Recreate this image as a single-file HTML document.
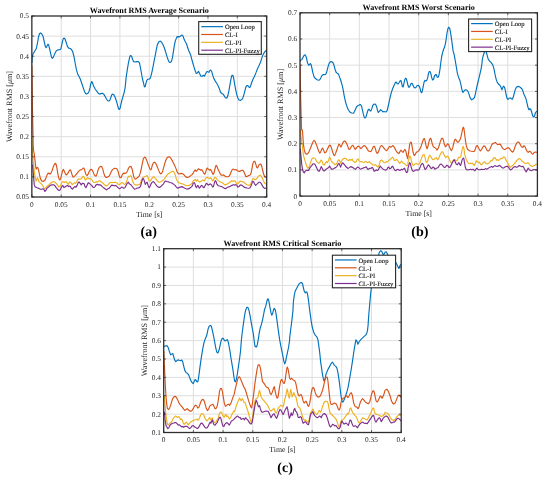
<!DOCTYPE html>
<html><head><meta charset="utf-8"><title>Wavefront RMS</title>
<style>
html,body{margin:0;padding:0;background:#fff;}
svg{display:block;}
text{text-rendering:geometricPrecision;font-family:"Liberation Serif","DejaVu Serif",serif;fill:#262626;}
.tk{font-size:7.35px;}
.tt{font-size:8.15px;font-weight:bold;fill:#000;}
.lg{font-size:6.6px;fill:#111;stroke:#111;stroke-width:0.12px;}
.cap{font-size:14px;font-weight:bold;fill:#000;}
.grid line{stroke:#dedede;stroke-width:1.0;}
.c{fill:none;stroke-width:1.15;stroke-linejoin:round;stroke-linecap:round;}
</style></head><body>
<svg width="550" height="481" viewBox="0 0 550 481">
<rect x="0" y="0" width="550" height="481" fill="#fff"/>

<g id="plot-a">
<g class="grid">
<line x1="61.21" y1="16.0" x2="61.21" y2="197.0"/>
<line x1="90.56" y1="16.0" x2="90.56" y2="197.0"/>
<line x1="119.92" y1="16.0" x2="119.92" y2="197.0"/>
<line x1="149.28" y1="16.0" x2="149.28" y2="197.0"/>
<line x1="178.63" y1="16.0" x2="178.63" y2="197.0"/>
<line x1="207.99" y1="16.0" x2="207.99" y2="197.0"/>
<line x1="237.34" y1="16.0" x2="237.34" y2="197.0"/>
<line x1="31.85" y1="176.89" x2="266.7" y2="176.89"/>
<line x1="31.85" y1="156.78" x2="266.7" y2="156.78"/>
<line x1="31.85" y1="136.67" x2="266.7" y2="136.67"/>
<line x1="31.85" y1="116.56" x2="266.7" y2="116.56"/>
<line x1="31.85" y1="96.44" x2="266.7" y2="96.44"/>
<line x1="31.85" y1="76.33" x2="266.7" y2="76.33"/>
<line x1="31.85" y1="56.22" x2="266.7" y2="56.22"/>
<line x1="31.85" y1="36.11" x2="266.7" y2="36.11"/>
</g>
<clipPath id="clip-a"><rect x="31.85" y="16.0" width="234.85" height="181.00"/></clipPath>
<g clip-path="url(#clip-a)">
<polyline class="c" stroke="#0072bd" points="32.0,62.6 32.2,57.7 32.7,54.5 34.4,51.7 36.3,48.5 37.4,43.5 38.5,37.0 39.6,33.5 40.6,32.9 41.8,34.0 43.1,36.5 44.2,41.4 45.3,46.3 46.1,47.7 46.9,46.3 47.8,44.4 48.5,44.6 49.4,47.9 50.5,52.8 51.5,57.2 52.4,58.3 53.5,56.9 54.9,53.4 56.2,51.0 57.8,49.9 59.5,49.8 60.8,49.2 61.6,45.7 62.5,41.4 63.3,38.6 64.2,38.1 65.1,39.2 66.2,42.5 67.4,46.3 68.7,48.1 70.2,48.5 71.5,49.5 72.8,52.0 74.0,56.6 75.0,62.1 75.5,65.0 76.5,69.9 77.8,74.3 79.3,77.0 80.4,79.2 81.8,83.5 83.1,87.4 84.4,91.2 85.5,93.4 86.6,93.9 88.0,93.2 89.1,91.2 90.0,87.9 90.7,84.1 91.6,81.6 92.4,82.5 93.5,85.7 94.9,88.5 96.7,91.2 98.4,93.4 99.7,94.1 101.1,93.6 102.4,93.2 103.6,93.9 104.9,96.1 106.3,98.8 107.6,100.7 109.0,101.0 110.0,99.9 110.9,97.2 111.8,94.7 112.8,94.1 114.0,95.0 115.3,97.7 116.4,101.0 117.5,104.8 118.3,108.1 119.1,109.5 120.0,108.6 120.7,105.4 121.8,100.5 123.1,96.1 124.2,92.3 125.1,87.9 126.1,77.9 127.2,70.3 128.3,63.7 129.4,58.3 130.0,56.0 130.9,55.6 131.8,56.7 132.6,59.5 133.6,61.6 135.3,62.0 136.9,61.6 138.3,61.6 139.3,62.7 139.4,62.6 140.3,67.0 141.4,73.0 142.4,78.5 143.6,83.4 144.4,87.0 145.2,86.6 145.9,83.4 146.8,80.3 147.9,79.2 149.2,79.2 150.3,78.1 151.2,75.2 152.3,70.3 153.4,64.8 154.4,59.4 155.1,56.2 156.3,49.6 157.4,44.7 158.7,42.0 160.0,41.1 161.4,42.0 162.8,44.2 164.2,47.5 165.6,51.8 166.9,56.2 168.2,60.0 169.3,62.2 170.4,62.5 171.5,61.1 172.4,57.8 173.2,52.9 174.2,46.4 175.3,40.9 176.5,37.9 176.8,36.9 178.2,36.6 179.6,36.9 180.9,35.8 182.2,35.0 183.1,36.1 184.0,39.1 185.3,41.8 186.6,44.0 187.7,47.8 189.1,51.6 190.5,54.4 191.8,59.3 192.4,61.5 193.8,66.4 195.2,70.7 196.3,73.5 197.4,72.9 198.5,71.3 199.6,73.5 200.9,76.2 202.2,76.2 203.3,75.3 204.4,76.2 205.5,74.0 206.6,71.8 207.7,71.6 208.8,72.4 209.8,70.5 210.7,70.0 211.8,71.8 212.7,75.1 213.8,78.4 215.3,81.1 216.7,83.3 218.2,86.0 219.4,88.7 220.4,92.0 221.8,93.6 222.8,93.8 223.9,95.3 225.0,97.1 226.1,98.2 227.0,97.8 227.9,95.3 229.0,90.4 230.1,83.8 231.2,77.8 232.0,75.3 232.8,75.3 233.6,77.8 234.6,83.8 235.7,89.8 236.8,94.7 237.9,98.0 239.0,100.0 240.3,100.4 241.7,99.6 242.8,98.0 243.9,94.7 245.0,90.4 246.1,86.5 247.2,85.5 248.3,86.0 249.4,87.6 250.2,87.1 251.3,83.8 252.6,80.0 254.3,76.7 255.9,72.9 257.6,68.5 259.2,65.3 260.6,62.0 261.9,57.6 263.2,54.4 264.6,52.0 266.3,50.5"/>
<polyline class="c" stroke="#d95319" points="31.9,66.0 32.5,110.0 33.2,145.0 33.5,150.0 34.3,154.4 35.1,160.9 35.6,166.4 36.2,169.1 37.0,167.4 37.8,167.7 38.6,170.2 39.5,174.6 40.5,178.9 41.9,181.1 43.3,181.4 44.6,180.6 45.7,178.6 46.8,175.6 47.9,173.4 49.0,173.1 50.0,174.2 51.1,172.9 52.2,170.2 53.3,166.9 54.4,164.2 55.5,163.3 56.4,165.3 57.1,169.1 58.0,174.6 58.9,178.6 59.9,180.0 60.7,178.6 61.6,174.6 62.6,170.7 63.5,169.4 64.2,170.9 65.1,173.4 66.2,174.9 67.3,174.2 68.4,172.4 69.2,170.7 70.2,169.8 71.1,171.3 72.0,174.6 73.0,177.1 74.0,176.7 75.5,175.3 76.9,173.4 78.4,171.6 79.8,170.2 81.5,169.6 82.9,168.6 83.0,168.0 84.1,168.3 85.0,171.3 86.0,174.6 87.2,175.6 88.2,174.0 89.3,171.3 90.4,169.6 91.5,169.4 92.6,170.7 93.7,173.4 94.8,175.6 95.9,176.2 97.0,174.0 98.0,170.2 99.2,167.4 100.5,166.4 101.8,166.6 102.8,169.1 103.7,172.9 104.8,176.2 106.1,177.5 107.5,177.1 109.0,176.2 110.0,174.6 111.2,171.8 112.5,169.6 113.9,168.6 115.5,168.3 117.0,169.1 118.1,171.3 119.0,175.1 120.1,177.8 121.2,177.5 122.3,174.6 123.6,173.1 125.0,173.4 126.4,172.7 127.5,170.7 128.6,168.0 129.9,166.4 131.0,166.6 132.1,169.1 133.0,173.4 133.9,177.3 135.2,179.2 136.4,178.6 137.9,177.3 138.0,177.1 139.1,176.2 140.2,173.4 141.3,168.6 142.4,163.1 143.4,158.7 144.6,157.1 145.6,157.8 146.7,160.4 147.8,163.6 148.9,166.4 150.0,169.1 150.9,169.8 151.6,168.0 152.5,164.7 153.6,162.6 154.7,162.2 155.8,163.6 157.1,166.4 158.4,169.6 159.5,172.4 160.6,173.8 161.7,173.4 162.8,170.7 163.8,166.9 164.9,163.1 166.0,159.8 167.1,157.8 168.6,156.8 169.8,157.1 171.1,158.7 172.4,160.9 173.7,163.6 175.1,166.4 176.2,169.1 177.1,171.8 178.2,173.4 179.4,174.0 181.1,173.4 182.5,173.8 183.8,174.6 185.1,176.2 186.6,177.3 188.0,177.3 189.3,176.7 190.7,175.6 192.0,174.6 193.0,173.4 194.1,171.3 195.2,169.8 196.3,171.3 197.4,170.2 198.4,168.8 199.6,169.4 200.6,170.2 201.7,169.6 202.8,171.3 203.9,173.4 204.8,174.2 205.6,172.4 206.4,169.6 207.2,168.0 208.3,169.1 209.4,170.2 210.4,169.4 211.6,171.3 212.6,174.0 213.5,174.2 214.3,171.8 215.2,168.0 216.1,165.3 217.0,166.4 217.9,169.1 219.0,171.3 220.1,173.4 221.2,175.1 222.4,175.3 223.6,174.9 224.8,176.0 226.3,176.7 227.7,176.7 229.0,176.2 230.1,174.6 231.2,171.8 232.3,169.6 233.4,169.1 234.4,169.8 235.8,169.6 237.2,170.5 238.6,171.3 239.9,171.3 241.2,170.5 242.6,170.2 243.7,171.3 244.8,174.0 245.9,176.7 247.2,176.4 248.6,175.6 249.9,175.3 251.0,173.4 251.9,169.1 252.7,164.2 253.8,161.4 254.9,161.4 255.8,164.2 256.7,167.4 257.5,168.0 258.4,166.2 259.4,164.2 260.8,164.0 261.6,165.8 262.5,169.6 263.6,174.0 264.7,176.7 266.6,177.3"/>
<polyline class="c" stroke="#edb120" points="31.9,137.0 32.4,150.0 33.2,160.9 34.0,168.6 34.8,175.1 35.6,179.4 36.2,181.1 37.0,178.6 37.6,177.8 38.1,179.2 38.9,181.6 40.0,182.7 41.3,183.8 42.7,185.4 43.8,187.6 44.9,188.7 46.0,187.6 47.4,186.0 48.7,184.9 49.8,183.8 51.1,182.7 52.5,181.8 54.0,181.6 55.3,182.5 56.6,183.8 57.7,185.4 58.8,186.9 59.9,186.6 61.0,184.4 62.0,182.2 63.1,181.6 64.2,182.5 65.3,181.8 66.2,181.6 67.0,182.7 68.2,184.4 69.2,182.7 70.2,181.8 71.1,182.7 72.2,184.7 73.3,183.8 74.4,182.7 75.5,183.3 76.5,182.2 77.6,180.0 78.7,178.9 80.2,179.2 81.5,178.6 82.5,177.1 83.0,176.2 84.1,177.1 85.2,180.0 86.3,179.4 87.4,177.8 88.5,178.4 89.8,178.9 90.8,178.6 92.0,180.0 93.0,181.6 94.1,182.7 95.2,182.5 96.3,181.6 97.4,182.2 98.8,181.1 99.9,180.6 101.0,181.8 102.4,182.7 103.7,183.8 105.0,185.4 106.5,186.0 107.9,184.9 109.2,183.3 110.5,182.5 111.9,182.2 113.5,182.5 115.2,182.2 116.6,182.7 117.9,184.0 119.2,184.7 120.3,184.0 121.4,182.7 122.5,182.5 123.6,183.8 124.7,184.4 125.8,183.3 126.8,181.1 127.7,177.8 128.6,176.2 129.7,176.4 130.8,175.6 131.6,177.3 132.6,181.1 133.7,183.6 135.2,184.9 136.4,185.1 137.6,184.8 138.0,184.9 139.3,184.7 140.4,183.3 141.5,180.0 142.4,178.2 143.4,177.3 144.6,176.7 145.8,176.2 146.9,175.6 147.8,176.7 148.6,179.4 149.4,181.1 150.6,180.6 151.6,178.9 152.7,177.3 153.8,176.7 154.9,177.8 156.3,179.4 157.6,181.1 158.9,182.2 160.4,182.0 161.8,181.1 163.1,180.3 164.4,178.9 165.5,177.3 166.6,175.6 168.0,174.0 169.4,172.9 170.7,172.2 172.0,171.3 173.1,171.3 174.2,172.4 175.3,175.1 176.2,178.4 177.3,181.1 178.6,182.5 180.0,183.3 181.4,183.6 182.9,184.0 184.4,184.7 185.8,185.4 187.1,185.8 188.7,185.4 190.2,184.9 191.4,183.8 192.6,182.4 193.0,181.1 194.1,180.6 195.2,179.4 196.3,181.1 197.4,179.7 198.4,181.1 199.6,182.2 200.6,181.6 201.7,180.6 203.0,180.0 204.1,181.1 205.0,179.4 206.1,177.8 207.4,177.3 208.5,178.2 209.6,178.6 210.7,177.8 211.8,179.4 212.6,181.1 213.7,179.4 214.8,177.3 215.9,177.8 217.0,179.4 218.3,180.6 219.7,181.6 221.2,182.2 222.4,182.7 223.8,184.0 225.2,184.9 226.6,184.4 227.9,183.6 229.2,182.7 230.6,181.8 231.7,180.8 232.8,181.4 233.9,180.6 235.0,181.1 236.1,182.7 237.2,184.4 238.3,183.3 239.4,181.6 240.4,181.1 241.6,181.8 243.0,181.6 244.3,182.7 245.6,183.8 247.0,184.7 248.4,185.1 249.7,185.4 250.8,183.8 251.6,181.6 252.7,178.9 253.8,178.6 254.9,179.7 256.0,179.2 257.1,178.2 258.1,176.7 259.2,175.6 260.3,175.3 261.4,176.2 262.5,178.6 263.8,181.6 265.1,183.6 266.6,184.4"/>
<polyline class="c" stroke="#7e2f8e" points="31.9,165.0 32.6,165.3 33.2,171.8 33.7,178.4 34.3,184.9 35.1,186.9 36.2,187.3 37.6,188.0 38.9,188.4 40.2,189.1 41.6,189.3 43.0,188.7 44.1,189.8 44.9,191.4 45.8,190.4 46.8,188.4 48.2,187.3 49.5,186.0 50.9,185.1 52.2,184.9 53.6,184.7 54.7,185.4 55.8,187.1 56.9,188.4 58.0,189.8 59.1,190.6 60.2,189.8 61.3,187.6 62.4,185.4 63.1,186.0 64.0,187.6 65.1,187.1 66.2,186.0 67.5,185.4 68.6,186.6 69.5,186.0 70.5,186.6 71.4,188.4 72.5,189.1 73.6,187.6 74.7,186.6 76.0,187.1 77.1,185.4 78.2,182.7 79.0,182.0 80.2,183.3 81.2,184.9 82.3,183.3 83.0,183.3 84.1,183.8 85.0,186.6 86.0,187.6 87.2,184.9 88.2,182.7 89.3,183.3 90.4,184.4 91.7,185.4 92.8,187.1 93.9,187.6 95.0,186.6 96.1,184.9 97.4,184.4 98.8,184.9 100.2,184.7 101.5,185.8 102.8,187.1 104.3,188.2 105.6,189.3 106.7,189.8 107.9,188.7 109.2,188.2 110.5,186.6 111.6,185.1 113.0,185.4 114.4,185.8 115.7,185.4 117.0,186.6 118.1,187.6 119.5,188.7 120.6,188.2 121.7,187.1 122.8,187.6 123.9,188.4 125.0,187.6 126.1,185.4 127.2,183.3 128.3,182.2 129.4,183.8 130.8,184.7 131.9,186.0 133.2,187.6 134.5,189.1 135.9,188.7 137.3,188.0 138.0,188.0 139.3,187.6 140.4,186.6 141.3,183.3 142.2,180.0 143.0,178.4 143.8,179.4 144.6,182.2 145.3,184.4 146.2,182.7 147.1,182.2 147.8,184.4 148.7,187.1 149.4,187.6 150.2,186.0 151.1,183.8 152.2,182.2 153.3,181.6 154.4,182.5 155.4,184.0 156.8,185.8 158.2,187.1 159.5,187.4 160.9,186.6 162.2,185.1 163.6,183.8 164.7,181.6 165.8,181.1 166.9,181.6 168.3,181.8 169.6,182.5 170.9,182.7 172.4,183.3 173.8,184.4 175.1,185.4 176.4,187.1 177.5,188.2 178.9,187.6 180.3,187.1 181.6,186.6 182.9,187.1 184.4,188.0 186.0,188.7 187.6,189.1 189.3,188.4 190.6,187.6 191.7,186.6 192.8,184.9 193.0,183.3 194.1,182.7 195.0,183.8 195.7,186.6 196.6,187.6 197.6,185.4 198.4,186.0 199.3,188.2 200.3,187.1 201.4,185.4 202.5,186.0 203.4,187.6 204.2,187.6 205.2,185.4 206.3,183.3 207.2,183.8 208.3,185.1 209.4,184.4 210.4,183.8 211.6,184.9 212.4,186.9 213.4,186.6 214.3,183.3 215.2,180.6 215.9,181.1 216.8,183.8 217.9,185.4 219.2,186.0 220.5,186.2 221.9,186.6 223.3,187.6 224.6,188.4 225.7,188.7 227.0,187.6 228.4,186.9 229.9,186.6 231.2,185.8 232.5,185.1 233.6,184.7 234.7,185.1 235.8,184.7 236.8,185.4 237.9,187.1 239.0,186.6 240.1,185.1 241.2,184.9 242.6,185.8 244.1,187.1 245.4,187.6 247.0,188.0 248.6,188.2 249.9,188.0 251.0,186.0 251.6,184.4 252.7,181.4 253.6,181.6 254.6,184.0 255.6,185.4 256.7,184.4 257.8,183.3 258.9,182.2 260.0,182.2 261.1,183.3 262.2,185.4 263.3,187.3 264.7,188.4 266.6,188.0"/>
</g>
<rect x="31.85" y="16.0" width="234.85" height="181.00" fill="none" stroke="#2e2e2e" stroke-width="1.3"/>
<path d="M31.85 197.0v-2.4M31.85 16.0v2.4M61.21 197.0v-2.4M61.21 16.0v2.4M90.56 197.0v-2.4M90.56 16.0v2.4M119.92 197.0v-2.4M119.92 16.0v2.4M149.28 197.0v-2.4M149.28 16.0v2.4M178.63 197.0v-2.4M178.63 16.0v2.4M207.99 197.0v-2.4M207.99 16.0v2.4M237.34 197.0v-2.4M237.34 16.0v2.4M266.70 197.0v-2.4M266.70 16.0v2.4M31.85 197.00h2.4M266.7 197.00h-2.4M31.85 176.89h2.4M266.7 176.89h-2.4M31.85 156.78h2.4M266.7 156.78h-2.4M31.85 136.67h2.4M266.7 136.67h-2.4M31.85 116.56h2.4M266.7 116.56h-2.4M31.85 96.44h2.4M266.7 96.44h-2.4M31.85 76.33h2.4M266.7 76.33h-2.4M31.85 56.22h2.4M266.7 56.22h-2.4M31.85 36.11h2.4M266.7 36.11h-2.4M31.85 16.00h2.4M266.7 16.00h-2.4" stroke="#262626" stroke-width="0.7" fill="none"/>
<text class="tk" x="31.85" y="206.90" text-anchor="middle">0</text>
<text class="tk" x="61.21" y="206.90" text-anchor="middle">0.05</text>
<text class="tk" x="90.56" y="206.90" text-anchor="middle">0.1</text>
<text class="tk" x="119.92" y="206.90" text-anchor="middle">0.15</text>
<text class="tk" x="149.28" y="206.90" text-anchor="middle">0.2</text>
<text class="tk" x="178.63" y="206.90" text-anchor="middle">0.25</text>
<text class="tk" x="207.99" y="206.90" text-anchor="middle">0.3</text>
<text class="tk" x="237.34" y="206.90" text-anchor="middle">0.35</text>
<text class="tk" x="266.70" y="206.90" text-anchor="middle">0.4</text>
<text class="tk" x="29.05" y="199.40" text-anchor="end">0.05</text>
<text class="tk" x="29.05" y="179.29" text-anchor="end">0.1</text>
<text class="tk" x="29.05" y="159.18" text-anchor="end">0.15</text>
<text class="tk" x="29.05" y="139.07" text-anchor="end">0.2</text>
<text class="tk" x="29.05" y="118.96" text-anchor="end">0.25</text>
<text class="tk" x="29.05" y="98.84" text-anchor="end">0.3</text>
<text class="tk" x="29.05" y="78.73" text-anchor="end">0.35</text>
<text class="tk" x="29.05" y="58.62" text-anchor="end">0.4</text>
<text class="tk" x="29.05" y="38.51" text-anchor="end">0.45</text>
<text class="tk" x="29.05" y="18.40" text-anchor="end">0.5</text>
<text class="tk" style="font-size:7.8px" x="149.28" y="216.90" text-anchor="middle">Time [s]</text>
<text class="tk" style="font-size:8.15px" transform="translate(11.85 106.50) rotate(-90)" text-anchor="middle">Wavefront RMS [<tspan font-style="italic">μ</tspan>m]</text>
<text class="tt" x="149.28" y="13.20" text-anchor="middle">Wavefront RMS Average Scenario</text>
<rect x="198.70" y="21.60" width="62.60000000000002" height="32.699999999999996" fill="#fff" stroke="#262626" stroke-width="1.1"/>
<line x1="201.20" y1="26.65" x2="222.90" y2="26.65" stroke="#0072bd" stroke-width="1.2"/>
<text class="lg" x="224.90" y="29.35">Open Loop</text>
<line x1="201.20" y1="34.50" x2="222.90" y2="34.50" stroke="#d95319" stroke-width="1.2"/>
<text class="lg" x="224.90" y="37.20">CL-I</text>
<line x1="201.20" y1="42.35" x2="222.90" y2="42.35" stroke="#edb120" stroke-width="1.2"/>
<text class="lg" x="224.90" y="45.05">CL-PI</text>
<line x1="201.20" y1="50.20" x2="222.90" y2="50.20" stroke="#7e2f8e" stroke-width="1.2"/>
<text class="lg" x="224.90" y="52.90">CL-PI-Fuzzy</text>
<text class="cap" x="148.7" y="235.85" text-anchor="middle">(a)</text>
</g>
<g id="plot-b">
<g class="grid">
<line x1="329.68" y1="12.8" x2="329.68" y2="196.1"/>
<line x1="359.35" y1="12.8" x2="359.35" y2="196.1"/>
<line x1="389.02" y1="12.8" x2="389.02" y2="196.1"/>
<line x1="418.70" y1="12.8" x2="418.70" y2="196.1"/>
<line x1="448.38" y1="12.8" x2="448.38" y2="196.1"/>
<line x1="478.05" y1="12.8" x2="478.05" y2="196.1"/>
<line x1="507.72" y1="12.8" x2="507.72" y2="196.1"/>
<line x1="300.0" y1="169.91" x2="537.4" y2="169.91"/>
<line x1="300.0" y1="143.73" x2="537.4" y2="143.73"/>
<line x1="300.0" y1="117.54" x2="537.4" y2="117.54"/>
<line x1="300.0" y1="91.36" x2="537.4" y2="91.36"/>
<line x1="300.0" y1="65.17" x2="537.4" y2="65.17"/>
<line x1="300.0" y1="38.99" x2="537.4" y2="38.99"/>
</g>
<clipPath id="clip-b"><rect x="300.0" y="12.8" width="237.40" height="183.30"/></clipPath>
<g clip-path="url(#clip-b)">
<polyline class="c" stroke="#0072bd" points="300.0,61.4 300.7,60.0 301.8,59.7 302.9,57.5 304.0,55.4 304.9,54.8 305.9,56.1 306.7,59.2 307.6,63.0 308.6,65.2 309.4,64.8 310.3,63.5 311.1,64.6 312.0,68.5 312.9,72.8 314.0,76.6 315.4,78.6 317.1,79.7 318.7,80.2 319.8,79.7 320.9,77.7 322.0,75.5 323.3,74.5 324.7,74.7 325.8,74.2 326.9,71.2 328.0,66.8 329.1,63.3 330.2,61.9 331.6,61.6 332.9,62.5 334.0,65.2 335.1,69.5 336.2,72.5 337.3,73.2 338.4,73.9 339.4,76.6 340.8,80.5 342.2,85.4 343.3,90.3 344.1,95.3 345.4,101.3 346.8,106.2 348.4,110.0 350.1,112.2 351.7,113.0 353.4,113.3 354.4,111.6 355.6,108.9 356.6,106.7 357.9,105.6 359.4,104.9 360.4,104.5 361.6,106.2 362.4,110.0 363.4,114.4 364.3,117.3 365.1,118.0 366.1,116.5 367.0,113.3 368.1,110.0 369.0,109.2 369.9,110.5 370.8,111.1 371.7,108.9 372.7,105.6 373.8,104.2 374.9,104.0 375.9,104.9 376.8,107.3 377.7,111.1 378.4,112.5 379.6,111.1 380.6,109.7 381.7,110.5 382.8,111.8 383.9,111.6 385.0,111.7 386.1,112.0 387.2,110.4 388.1,106.5 389.2,101.6 390.3,96.7 391.4,92.4 392.7,88.5 394.1,85.3 395.4,82.5 396.3,82.0 397.1,83.6 398.1,84.0 399.2,82.5 400.1,80.9 400.9,80.4 401.5,82.5 402.3,86.4 403.1,86.9 403.9,83.6 404.7,79.8 405.6,78.2 406.4,79.0 407.2,82.0 408.1,85.8 409.0,87.5 409.9,86.4 410.8,84.0 411.8,83.1 412.6,84.2 413.7,86.9 414.8,88.0 415.9,87.5 417.0,85.8 418.1,85.3 419.2,86.2 420.1,88.5 420.8,91.8 421.7,92.7 422.4,90.7 423.2,86.4 424.1,82.0 425.0,80.4 425.9,80.9 426.8,80.4 427.7,77.6 428.4,73.8 429.2,71.6 430.1,71.6 430.9,73.8 431.7,77.6 432.6,80.0 433.6,79.3 434.4,76.0 435.9,74.5 436.4,75.0 437.3,77.2 438.3,77.2 439.2,73.9 440.1,68.5 440.8,62.5 441.7,56.5 442.7,52.1 443.8,48.8 444.4,47.6 445.4,43.8 446.3,38.4 447.1,32.4 447.9,28.6 448.8,27.2 449.8,28.6 450.6,32.9 451.5,38.9 452.3,44.9 453.1,50.9 454.2,54.8 455.3,60.8 456.4,67.4 457.4,73.4 458.5,77.2 459.6,79.7 460.7,83.7 461.8,89.2 462.9,92.5 463.9,91.1 465.4,89.7 466.8,90.0 468.1,91.6 469.2,94.9 470.3,98.2 471.6,99.8 473.0,99.0 474.4,97.6 475.4,93.8 476.5,88.4 477.6,83.5 478.7,79.1 479.9,74.2 481.0,69.3 481.9,63.8 482.4,58.9 483.6,54.5 484.6,51.8 485.4,50.7 486.3,51.8 487.1,55.1 488.1,58.9 489.6,61.1 491.2,62.7 492.8,64.9 494.1,69.3 495.0,74.2 496.1,79.1 497.3,82.4 498.6,84.2 499.9,85.3 501.0,87.3 501.9,89.7 502.6,88.0 503.4,86.2 504.4,86.9 505.3,90.2 506.1,94.5 507.1,98.6 508.0,99.5 509.1,98.2 510.4,97.8 511.5,98.9 512.4,99.2 513.2,97.3 514.2,93.5 515.3,89.6 516.4,87.2 517.8,86.4 519.2,86.6 520.5,87.5 521.9,88.8 523.0,91.3 524.0,94.5 525.1,96.7 526.0,98.9 526.9,102.7 527.9,107.1 529.0,109.8 529.8,108.7 530.7,109.3 531.7,112.0 532.5,115.3 533.4,116.9 534.4,116.4 535.3,113.1 536.4,111.5 537.5,111.2"/>
<polyline class="c" stroke="#d95319" points="300.1,65.0 300.7,100.0 301.6,130.0 302.4,130.0 302.9,136.6 303.4,144.2 304.3,150.2 305.3,153.4 306.7,154.2 308.0,153.4 309.2,151.3 310.3,148.6 311.6,145.3 312.9,142.0 314.1,140.4 315.1,141.4 316.2,144.2 317.4,147.4 318.7,151.3 319.8,153.1 320.7,151.8 321.7,149.1 322.6,148.0 323.6,150.2 324.7,152.9 325.8,152.4 326.9,150.2 328.2,147.4 329.4,145.3 330.4,145.3 331.5,148.0 332.6,151.8 333.7,155.1 334.6,155.6 335.6,153.4 336.7,150.2 337.8,146.9 338.9,144.2 339.8,144.7 340.6,146.9 341.4,146.4 342.5,143.6 343.6,141.4 344.7,140.9 345.8,142.0 346.9,144.2 348.0,146.9 348.9,149.4 350.0,149.1 351.1,146.9 352.2,145.5 353.0,145.3 354.1,147.4 355.2,149.4 356.5,148.0 357.6,146.4 358.7,146.2 359.8,147.4 360.9,148.6 361.9,147.7 363.0,146.4 364.1,145.5 365.2,146.2 366.3,147.4 367.4,149.4 368.5,150.9 369.9,151.6 371.2,151.3 372.3,149.1 373.4,146.6 374.5,146.4 375.4,148.6 376.2,151.8 377.2,153.4 378.3,152.4 379.4,149.1 380.5,146.4 381.6,145.5 382.7,146.4 383.8,148.0 385.2,149.6 386.5,150.7 387.6,149.6 388.7,147.4 389.8,146.4 390.9,147.2 391.9,146.4 393.0,145.5 394.1,146.9 395.2,149.1 396.4,151.3 397.7,152.9 399.0,153.4 400.1,151.3 401.0,150.2 401.9,151.3 403.0,152.4 403.9,150.7 405.0,149.4 405.9,151.3 406.8,155.6 407.6,158.6 408.0,156.6 408.9,150.6 409.6,144.6 410.5,142.2 411.3,142.4 412.1,146.3 413.1,152.3 414.2,155.6 415.3,154.4 416.4,152.1 417.6,151.7 418.9,150.6 420.2,148.4 421.3,145.7 422.4,142.2 423.5,139.0 424.4,138.6 425.1,140.8 426.0,145.7 427.1,148.8 428.0,146.3 428.9,141.9 429.8,139.0 430.7,138.3 431.4,140.3 432.3,144.1 433.4,146.8 434.5,147.4 435.8,148.4 437.1,150.1 438.2,148.4 439.3,145.2 440.4,141.4 441.5,138.6 442.6,138.3 443.4,140.3 444.3,144.1 445.4,146.8 446.4,145.7 447.5,143.8 448.6,144.4 449.4,146.8 450.6,149.6 451.6,150.6 452.7,147.9 453.8,143.0 454.7,139.7 455.7,139.2 456.8,141.4 457.9,142.4 458.9,141.4 460.0,139.7 461.1,136.4 462.2,131.0 463.1,127.4 463.4,127.2 463.9,128.3 464.6,133.7 465.4,140.3 466.3,145.7 467.4,149.0 468.7,150.3 470.1,151.0 471.7,151.2 473.4,151.5 474.4,151.2 475.3,149.0 476.3,146.3 477.2,145.5 478.3,147.4 479.4,149.6 480.4,151.0 481.6,149.6 482.6,147.4 483.9,145.9 485.0,146.3 486.1,148.4 487.2,150.6 488.3,151.0 489.4,150.1 490.5,147.9 491.6,145.2 492.7,143.6 494.1,143.0 495.4,142.4 496.5,143.6 497.6,144.6 498.7,144.4 500.1,144.1 501.2,145.7 502.3,147.9 503.6,149.2 505.0,149.6 506.3,148.4 507.7,147.7 508.8,147.9 509.9,149.2 511.2,151.0 512.4,152.1 513.5,151.2 514.5,148.4 515.6,145.2 516.8,143.0 518.1,141.9 519.2,142.4 520.3,144.6 521.4,146.8 522.8,147.4 524.0,145.7 525.1,146.8 526.2,149.6 527.3,151.7 528.4,152.3 529.5,151.2 530.6,151.7 531.7,153.4 532.8,154.2 533.9,152.8 535.3,152.1 537.5,152.3"/>
<polyline class="c" stroke="#edb120" points="300.1,130.0 300.4,130.6 301.3,138.7 302.4,146.4 303.4,155.1 304.6,159.4 305.6,162.7 306.7,166.0 307.8,168.2 308.7,167.6 309.8,164.9 310.9,161.6 312.0,158.6 313.3,157.8 314.6,158.2 315.7,159.4 316.8,161.6 317.9,162.7 318.9,163.3 320.0,162.2 321.1,160.0 322.0,161.1 323.1,164.4 324.2,165.1 325.3,163.3 326.4,161.6 327.4,162.7 328.6,160.0 329.6,157.3 330.5,158.6 331.6,161.4 332.7,162.7 333.8,163.3 334.9,164.7 336.0,164.4 337.1,162.7 338.1,160.6 338.9,159.7 339.8,161.6 340.6,163.3 341.3,161.6 342.4,159.4 343.6,158.6 344.9,158.2 346.0,158.6 347.3,160.0 348.5,160.6 349.8,159.4 350.9,160.3 352.2,159.2 353.0,161.1 354.1,161.8 355.2,162.5 356.3,161.6 357.1,159.4 358.1,158.9 359.0,160.6 360.1,161.6 361.5,161.6 362.8,162.2 363.9,162.5 365.0,161.8 366.1,161.6 367.2,162.7 368.3,162.2 369.4,161.6 370.4,162.7 371.6,163.8 372.9,164.9 374.3,165.1 375.6,164.7 376.7,166.0 377.9,167.1 379.0,165.4 379.7,162.7 380.6,160.6 381.7,160.0 382.8,161.1 383.9,162.5 385.0,162.7 386.1,161.6 387.1,162.2 388.2,161.1 389.3,160.0 390.4,159.4 391.5,158.2 392.5,157.1 393.4,158.2 394.2,160.3 395.3,160.6 396.4,159.4 397.5,160.0 398.6,162.2 399.7,163.3 400.7,162.2 401.6,161.1 402.6,162.7 403.7,163.3 404.8,163.8 405.9,164.9 406.8,165.8 407.9,165.1 408.0,162.1 408.9,158.8 409.6,156.1 410.4,156.6 411.3,160.4 412.4,164.3 413.4,165.6 414.8,164.3 416.2,163.4 417.5,164.1 418.6,164.5 419.7,163.2 420.8,160.4 421.9,157.2 422.9,155.0 424.0,154.4 424.9,156.6 425.8,161.0 426.8,162.6 427.9,160.4 428.7,157.2 429.6,155.3 430.6,156.1 431.7,158.3 432.8,159.7 433.9,159.4 435.3,158.3 436.4,157.7 437.4,159.7 438.6,158.8 439.6,156.1 440.7,153.6 441.8,151.7 442.7,151.7 443.7,153.9 444.8,156.1 445.6,157.7 446.5,156.8 447.5,156.1 448.6,157.2 449.4,159.7 450.6,162.1 451.6,163.0 452.7,161.6 453.8,159.4 454.9,159.7 456.0,161.0 457.1,160.4 458.2,158.3 458.9,157.2 459.8,157.7 460.7,156.6 461.4,153.4 462.3,149.0 463.1,146.3 463.4,146.8 463.9,148.4 464.6,153.4 465.4,157.2 466.5,159.9 467.9,162.6 469.2,163.7 470.6,163.4 472.3,163.2 473.6,164.5 474.4,165.4 475.3,163.2 476.3,160.8 477.2,161.6 478.3,162.6 479.4,162.1 480.2,163.7 481.2,164.8 482.6,163.7 483.9,162.1 484.8,161.9 485.9,163.4 487.2,164.1 488.6,163.2 489.9,162.1 491.0,160.4 491.9,161.0 493.0,159.0 494.3,157.5 495.4,158.3 496.5,160.1 497.6,159.7 498.7,160.4 499.8,159.4 500.9,158.3 501.9,158.8 503.0,157.7 504.1,156.8 505.0,157.7 505.9,159.9 507.0,161.6 508.1,163.7 509.1,165.9 510.2,167.3 511.3,166.4 512.6,165.6 514.0,164.1 515.1,162.6 516.5,161.0 517.5,159.7 518.6,158.8 519.7,158.6 520.8,159.7 521.9,161.0 523.0,161.6 524.0,162.6 525.5,163.7 526.8,163.2 527.9,162.6 529.0,163.7 530.0,165.2 531.5,166.2 532.8,166.4 533.9,165.6 535.0,165.2 536.0,164.3 537.5,164.5"/>
<polyline class="c" stroke="#7e2f8e" points="300.1,149.0 300.4,150.2 301.1,157.3 301.8,164.9 302.6,169.8 303.4,172.0 304.3,172.8 305.1,171.4 306.2,170.4 307.5,170.2 308.6,170.4 309.7,168.2 310.8,166.6 311.9,165.4 312.7,164.0 314.0,163.8 315.1,164.4 316.0,166.6 317.1,168.7 318.2,170.9 319.3,171.2 320.4,168.7 321.2,166.6 322.2,168.2 323.3,170.6 324.4,170.9 325.8,169.5 327.2,168.4 328.6,167.6 329.6,166.0 330.5,167.6 331.6,169.3 332.9,169.1 334.2,168.2 335.6,167.6 336.9,166.6 338.0,164.4 338.9,163.3 339.7,164.9 340.6,167.1 341.4,164.9 342.4,162.9 343.3,163.3 344.4,164.7 345.4,166.0 346.8,167.6 348.2,168.4 349.3,167.6 350.6,166.6 351.8,167.1 353.0,167.6 354.3,168.7 355.4,169.3 356.5,168.2 357.6,167.1 358.7,167.6 359.8,168.7 360.9,169.1 361.9,168.4 363.0,168.2 364.1,167.6 365.2,167.3 366.1,166.9 367.0,168.2 367.9,169.5 369.0,168.7 370.1,168.4 371.2,168.2 372.3,167.3 373.2,168.7 374.1,171.2 375.1,170.9 376.2,169.8 377.3,170.4 378.4,169.8 379.4,167.6 380.3,166.0 381.1,167.1 382.2,168.4 383.3,169.3 384.4,169.8 385.7,170.2 387.0,169.3 387.9,167.6 388.8,167.1 389.8,168.7 390.9,168.2 391.9,166.6 392.8,166.2 393.7,168.2 394.8,170.2 396.1,170.6 397.2,169.3 398.3,169.5 399.4,170.4 400.4,170.2 401.6,169.3 402.6,169.8 403.7,168.7 404.6,168.2 405.4,170.4 406.4,172.6 407.6,172.0 408.0,168.1 408.9,164.8 409.6,162.6 410.4,163.7 411.3,167.6 412.4,170.8 413.7,171.4 415.1,170.3 416.4,169.7 417.8,170.3 418.9,169.7 420.0,167.6 421.1,164.8 422.2,163.4 423.3,164.3 424.1,167.0 425.1,169.5 426.2,168.6 427.3,166.4 428.4,164.8 429.5,165.9 430.6,168.1 431.7,168.6 432.8,167.0 433.9,167.6 434.9,169.2 436.0,168.6 437.1,168.1 438.2,167.6 439.3,165.4 440.4,164.1 441.5,164.3 442.6,165.4 443.7,167.0 444.8,167.6 445.9,166.4 446.9,165.2 448.0,165.9 449.1,167.6 450.2,167.0 451.3,164.8 452.4,162.6 453.5,160.4 454.4,159.9 455.2,162.1 456.3,164.3 457.4,164.8 458.2,163.2 458.9,162.6 459.8,164.8 460.7,165.4 461.4,162.6 462.3,159.4 463.1,158.3 463.4,158.1 463.9,158.8 464.6,163.2 465.4,167.6 466.3,169.5 467.6,169.9 469.0,169.7 470.4,169.2 471.7,169.7 473.0,169.2 474.1,170.3 475.0,170.8 475.9,169.2 476.9,168.1 477.7,169.2 478.8,169.7 480.1,169.7 481.6,169.2 482.9,169.5 484.3,169.5 485.6,168.6 486.7,169.2 487.9,168.6 489.2,167.6 490.5,167.0 491.6,166.4 492.7,167.3 493.8,166.4 494.9,165.6 495.9,166.2 497.4,166.4 498.4,165.9 499.6,165.4 500.6,166.2 501.7,167.3 502.8,168.1 503.9,167.8 505.0,167.0 506.1,166.4 507.2,166.2 508.3,167.0 509.4,168.6 510.4,169.9 511.6,169.5 512.6,168.1 514.0,167.0 515.1,166.4 516.5,167.3 517.5,167.0 518.6,165.9 519.7,165.6 520.8,166.4 521.9,166.7 523.0,166.2 524.0,168.1 525.1,170.3 526.2,171.9 527.3,169.9 528.2,168.1 529.0,169.2 530.1,170.3 531.5,170.8 532.8,169.9 534.2,169.5 535.6,169.7 537.5,169.9"/>
</g>
<rect x="300.0" y="12.8" width="237.40" height="183.30" fill="none" stroke="#2e2e2e" stroke-width="1.3"/>
<path d="M300.00 196.1v-2.4M300.00 12.8v2.4M329.68 196.1v-2.4M329.68 12.8v2.4M359.35 196.1v-2.4M359.35 12.8v2.4M389.02 196.1v-2.4M389.02 12.8v2.4M418.70 196.1v-2.4M418.70 12.8v2.4M448.38 196.1v-2.4M448.38 12.8v2.4M478.05 196.1v-2.4M478.05 12.8v2.4M507.72 196.1v-2.4M507.72 12.8v2.4M537.40 196.1v-2.4M537.40 12.8v2.4M300.0 196.10h2.4M537.4 196.10h-2.4M300.0 169.91h2.4M537.4 169.91h-2.4M300.0 143.73h2.4M537.4 143.73h-2.4M300.0 117.54h2.4M537.4 117.54h-2.4M300.0 91.36h2.4M537.4 91.36h-2.4M300.0 65.17h2.4M537.4 65.17h-2.4M300.0 38.99h2.4M537.4 38.99h-2.4M300.0 12.80h2.4M537.4 12.80h-2.4" stroke="#262626" stroke-width="0.7" fill="none"/>
<text class="tk" x="300.00" y="206.00" text-anchor="middle">0</text>
<text class="tk" x="329.68" y="206.00" text-anchor="middle">0.05</text>
<text class="tk" x="359.35" y="206.00" text-anchor="middle">0.1</text>
<text class="tk" x="389.02" y="206.00" text-anchor="middle">0.15</text>
<text class="tk" x="418.70" y="206.00" text-anchor="middle">0.2</text>
<text class="tk" x="448.38" y="206.00" text-anchor="middle">0.25</text>
<text class="tk" x="478.05" y="206.00" text-anchor="middle">0.3</text>
<text class="tk" x="507.72" y="206.00" text-anchor="middle">0.35</text>
<text class="tk" x="537.40" y="206.00" text-anchor="middle">0.4</text>
<text class="tk" x="297.20" y="198.50" text-anchor="end">0</text>
<text class="tk" x="297.20" y="172.31" text-anchor="end">0.1</text>
<text class="tk" x="297.20" y="146.13" text-anchor="end">0.2</text>
<text class="tk" x="297.20" y="119.94" text-anchor="end">0.3</text>
<text class="tk" x="297.20" y="93.76" text-anchor="end">0.4</text>
<text class="tk" x="297.20" y="67.57" text-anchor="end">0.5</text>
<text class="tk" x="297.20" y="41.39" text-anchor="end">0.6</text>
<text class="tk" x="297.20" y="15.20" text-anchor="end">0.7</text>
<text class="tk" style="font-size:7.8px" x="418.70" y="216.00" text-anchor="middle">Time [s]</text>
<text class="tk" style="font-size:8.15px" transform="translate(283.00 104.45) rotate(-90)" text-anchor="middle">Wavefront RMS [<tspan font-style="italic">μ</tspan>m]</text>
<text class="tt" x="418.70" y="10.00" text-anchor="middle">Wavefront RMS Worst Scenario</text>
<rect x="468.60" y="19.00" width="63.0" height="32.6" fill="#fff" stroke="#262626" stroke-width="1.1"/>
<line x1="471.10" y1="23.60" x2="492.80" y2="23.60" stroke="#0072bd" stroke-width="1.2"/>
<text class="lg" x="494.80" y="26.30">Open Loop</text>
<line x1="471.10" y1="31.45" x2="492.80" y2="31.45" stroke="#d95319" stroke-width="1.2"/>
<text class="lg" x="494.80" y="34.15">CL-I</text>
<line x1="471.10" y1="39.30" x2="492.80" y2="39.30" stroke="#edb120" stroke-width="1.2"/>
<text class="lg" x="494.80" y="42.00">CL-PI</text>
<line x1="471.10" y1="47.15" x2="492.80" y2="47.15" stroke="#7e2f8e" stroke-width="1.2"/>
<text class="lg" x="494.80" y="49.85">CL-PI-Fuzzy</text>
<text class="cap" x="419.9" y="235.7" text-anchor="middle">(b)</text>
</g>
<g id="plot-c">
<g class="grid">
<line x1="193.39" y1="248.7" x2="193.39" y2="432.5"/>
<line x1="223.07" y1="248.7" x2="223.07" y2="432.5"/>
<line x1="252.76" y1="248.7" x2="252.76" y2="432.5"/>
<line x1="282.45" y1="248.7" x2="282.45" y2="432.5"/>
<line x1="312.14" y1="248.7" x2="312.14" y2="432.5"/>
<line x1="341.82" y1="248.7" x2="341.82" y2="432.5"/>
<line x1="371.51" y1="248.7" x2="371.51" y2="432.5"/>
<line x1="163.7" y1="414.12" x2="401.2" y2="414.12"/>
<line x1="163.7" y1="395.74" x2="401.2" y2="395.74"/>
<line x1="163.7" y1="377.36" x2="401.2" y2="377.36"/>
<line x1="163.7" y1="358.98" x2="401.2" y2="358.98"/>
<line x1="163.7" y1="340.60" x2="401.2" y2="340.60"/>
<line x1="163.7" y1="322.22" x2="401.2" y2="322.22"/>
<line x1="163.7" y1="303.84" x2="401.2" y2="303.84"/>
<line x1="163.7" y1="285.46" x2="401.2" y2="285.46"/>
<line x1="163.7" y1="267.08" x2="401.2" y2="267.08"/>
</g>
<clipPath id="clip-c"><rect x="163.7" y="248.7" width="237.50" height="183.80"/></clipPath>
<g clip-path="url(#clip-c)">
<polyline class="c" stroke="#0072bd" points="163.8,346.4 164.9,346.1 166.2,345.7 167.3,345.9 168.4,348.1 169.5,351.9 170.6,354.9 171.7,354.1 172.8,353.6 173.6,356.3 174.7,360.1 175.8,361.7 176.9,360.6 178.0,359.9 179.3,360.3 180.7,360.6 181.8,360.1 182.7,361.7 183.7,366.1 184.8,370.4 186.2,372.6 187.8,373.7 188.9,375.4 190.0,378.6 191.3,381.4 192.4,383.0 193.3,383.6 194.2,381.4 195.1,379.5 196.0,380.3 197.1,381.9 198.0,381.4 198.7,377.0 199.6,369.9 200.6,362.3 201.7,355.2 202.8,348.6 204.0,342.6 205.3,338.8 206.7,335.6 208.1,329.0 209.2,326.3 210.3,325.4 211.4,326.3 212.4,330.6 213.6,336.1 214.6,341.6 215.7,347.6 216.8,352.1 217.9,353.0 219.0,350.3 220.1,345.4 221.2,340.4 222.3,338.3 223.2,338.3 224.1,339.9 225.2,341.0 226.3,340.1 227.4,339.7 228.3,342.1 229.2,347.0 230.1,351.9 230.8,357.0 231.9,363.6 233.0,370.1 233.9,376.6 234.6,381.0 235.5,381.9 236.5,378.8 237.6,372.3 238.7,364.6 239.8,357.0 240.6,350.4 241.4,339.9 242.4,331.2 243.6,322.4 244.6,315.4 245.7,309.9 246.8,307.4 247.9,307.4 249.0,310.4 250.1,315.9 251.2,322.4 252.3,328.4 253.4,334.4 254.2,341.0 255.0,346.4 255.0,345.9 256.1,347.2 257.0,345.9 257.9,341.6 258.8,336.1 259.2,333.2 260.3,327.7 261.4,324.4 262.4,320.6 263.6,314.6 264.6,309.2 265.7,306.4 266.6,302.6 267.4,299.4 268.1,298.8 269.0,301.6 269.9,307.0 270.9,312.4 271.7,315.2 272.6,313.6 273.4,310.3 274.2,308.3 275.2,309.7 276.1,314.1 277.0,320.6 278.1,328.8 279.1,335.9 279.6,339.4 280.6,344.8 281.7,350.3 282.8,355.7 283.7,360.6 284.7,363.9 285.6,361.7 286.4,357.4 287.5,352.4 288.6,347.0 289.6,340.4 289.7,337.6 290.8,328.8 291.9,320.1 293.0,310.3 293.3,302.7 294.2,295.6 295.3,290.7 296.6,288.6 298.0,285.8 299.4,283.6 300.7,282.6 301.8,282.6 302.7,284.2 303.4,288.0 304.3,291.3 305.3,292.9 306.2,291.8 307.1,292.4 307.8,295.6 308.6,301.1 309.4,308.2 310.3,314.7 311.1,320.4 312.2,327.0 313.6,331.9 315.2,335.2 316.8,336.8 317.9,339.6 318.8,345.6 319.8,353.2 320.6,361.6 321.6,368.1 322.4,374.1 323.3,378.4 324.1,381.2 325.0,379.6 325.9,374.6 327.1,371.4 328.4,368.6 329.9,365.9 331.2,363.5 332.3,362.1 333.4,363.5 334.4,365.4 335.8,366.4 336.9,368.1 337.7,371.4 338.6,376.8 339.6,383.9 340.4,391.0 341.3,397.6 342.1,401.4 342.9,402.1 343.7,400.8 344.8,398.1 345.9,394.8 347.0,391.6 348.1,387.2 349.2,381.2 350.3,374.6 351.4,368.1 352.4,361.6 354.4,348.0 355.2,343.6 355.9,339.8 356.8,340.9 357.9,344.2 359.0,342.0 360.6,339.8 362.3,338.2 363.9,336.6 365.6,335.1 366.6,333.6 367.5,330.6 368.1,325.1 368.5,318.6 369.0,312.0 369.6,305.4 370.1,300.0 370.7,293.0 371.3,288.6 372.4,281.0 374.0,271.2 376.2,261.4 378.6,255.2 379.4,252.1 380.8,250.7 381.9,251.6 382.7,253.7 383.5,254.8 384.4,253.7 385.2,252.1 386.2,251.8 387.1,253.2 387.9,255.2 390.4,258.1 393.1,260.3 395.8,262.4 396.9,264.6 398.0,266.8 398.9,268.4 399.6,266.8 400.4,264.6 401.3,265.0"/>
<polyline class="c" stroke="#d95319" points="163.8,351.0 164.3,365.0 164.4,365.0 164.9,375.9 165.4,386.8 166.0,396.6 166.6,403.2 167.3,408.1 168.4,409.5 169.5,408.4 170.6,405.4 171.7,401.6 172.8,398.3 174.2,396.6 175.5,396.4 176.6,397.7 177.7,399.9 178.8,402.6 180.2,404.8 181.5,406.2 182.6,407.6 183.7,409.2 184.8,410.3 185.8,409.9 187.1,408.6 188.2,409.5 189.4,410.8 190.8,411.4 192.2,410.3 193.5,408.1 194.6,405.9 195.7,405.1 196.8,406.2 197.8,408.1 198.7,407.6 199.8,404.8 200.9,401.6 202.0,399.7 203.1,399.4 204.2,401.0 205.3,404.8 206.4,408.6 207.4,410.6 208.6,409.2 209.6,406.4 210.7,405.1 211.8,404.8 212.9,404.3 213.8,405.9 214.9,408.6 216.0,408.6 217.1,406.4 218.2,401.0 219.2,393.9 219.4,391.6 220.4,388.6 221.6,388.6 222.4,391.6 223.4,397.6 224.3,403.1 225.4,406.4 226.4,405.6 227.6,404.5 228.6,404.2 229.7,405.3 230.8,403.6 231.9,400.4 233.0,397.1 234.1,394.4 235.2,389.4 236.3,384.6 237.4,380.2 238.4,377.4 239.6,376.9 240.6,379.1 241.7,381.8 242.8,384.6 243.9,387.1 245.2,389.4 246.3,392.7 247.4,396.6 248.5,400.4 249.6,403.6 250.7,406.7 251.6,408.0 252.4,403.6 253.2,397.6 254.1,390.6 255.0,382.9 256.1,375.3 257.2,368.7 258.1,365.2 259.0,364.6 259.9,366.0 260.8,370.4 261.7,376.4 262.4,381.3 263.6,382.9 264.6,384.2 265.7,386.2 266.8,387.3 268.1,387.8 269.2,390.0 270.3,393.8 271.4,394.4 272.5,391.6 273.6,387.8 274.4,386.7 274.9,390.0 276.0,394.9 277.1,398.2 278.0,397.1 278.7,392.7 279.6,386.7 280.6,381.3 281.4,379.4 282.3,380.2 283.3,382.9 284.2,383.4 285.1,380.7 285.8,375.3 286.6,369.8 287.2,367.1 288.0,368.7 288.8,373.1 289.6,378.0 290.5,379.4 291.5,378.3 292.4,379.1 293.4,380.2 294.6,380.5 295.6,382.4 296.5,386.7 297.3,391.1 298.1,394.4 299.1,396.0 300.2,394.9 301.3,394.7 302.2,397.1 303.1,400.9 304.1,403.1 305.2,402.0 306.0,401.2 306.9,403.1 307.9,405.8 308.7,406.4 309.6,403.6 310.6,398.2 311.4,392.2 312.3,388.4 313.3,387.3 314.2,388.9 315.1,392.2 316.1,394.9 317.4,396.6 318.8,397.1 320.2,396.0 321.5,393.3 322.6,390.0 323.7,385.6 324.8,380.7 325.0,378.6 326.1,377.4 327.2,377.2 327.9,380.7 328.6,387.3 329.4,394.9 330.1,400.9 331.0,404.2 332.1,404.7 333.2,403.6 334.3,403.1 335.4,403.6 336.4,404.2 337.3,406.4 338.3,409.1 339.2,410.0 340.1,408.0 340.8,403.6 341.7,399.8 342.8,398.7 344.1,397.6 345.5,396.6 346.8,395.8 347.9,397.6 349.0,396.0 350.1,393.8 351.2,392.7 352.1,394.4 352.8,398.2 353.7,403.1 354.7,405.8 355.8,406.9 356.9,407.1 357.7,408.6 358.6,408.0 359.6,404.7 360.4,402.0 361.6,399.8 362.6,398.7 363.7,399.8 364.8,401.4 366.1,402.6 367.6,403.4 368.6,403.6 369.7,402.0 370.8,397.6 371.7,393.8 372.7,391.1 373.6,390.8 374.4,392.7 375.2,397.1 376.1,400.9 377.0,402.0 378.1,400.9 379.2,398.2 380.3,396.0 381.2,396.6 382.1,398.2 383.0,396.6 384.1,393.8 385.0,390.4 386.0,389.6 387.1,389.4 388.2,391.0 389.3,393.7 390.4,397.0 391.4,400.8 392.6,403.0 393.6,404.1 394.7,403.6 395.8,401.4 396.9,398.6 398.0,395.9 399.1,395.0 400.0,395.9 401.3,397.6"/>
<polyline class="c" stroke="#edb120" points="163.8,396.0 164.4,396.4 165.2,406.8 166.0,415.6 166.8,421.0 167.6,424.5 168.7,424.8 169.8,423.2 170.9,422.6 172.0,421.0 173.1,418.8 174.2,417.2 175.3,416.1 176.4,416.6 177.4,417.5 178.6,416.6 179.4,417.2 180.4,419.4 181.5,418.8 182.4,420.4 183.2,423.2 184.2,424.3 185.3,423.2 186.4,422.1 187.3,423.4 188.4,424.8 189.4,423.4 190.6,422.1 191.6,421.6 192.7,420.8 194.0,420.1 195.4,419.7 196.8,419.0 197.8,420.1 198.7,419.7 199.8,417.2 200.9,414.4 202.0,413.4 203.1,413.9 204.2,416.1 205.3,418.8 206.4,420.4 207.4,420.8 208.6,418.8 209.6,417.5 210.5,418.8 211.3,420.4 212.2,417.7 212.9,419.4 213.8,422.1 214.9,422.6 216.1,421.6 217.2,419.9 218.3,417.7 219.4,413.9 220.4,412.1 221.6,412.3 222.4,414.4 223.4,416.6 224.3,417.2 225.2,415.0 225.9,414.4 226.8,416.6 227.8,416.1 228.6,417.7 229.5,419.0 230.6,417.7 231.7,415.0 232.8,412.8 233.8,411.0 234.6,411.7 235.5,408.4 236.5,405.2 237.6,402.4 238.7,399.7 239.6,398.1 240.4,399.7 241.2,400.8 242.1,398.6 243.0,399.7 243.9,402.4 245.0,402.4 245.9,405.2 246.8,407.9 247.9,411.2 249.0,415.0 250.1,418.8 251.0,422.1 251.8,421.6 252.6,416.6 253.4,411.2 254.3,405.2 255.2,400.3 256.2,398.6 257.2,398.3 258.1,396.4 258.9,392.6 259.5,390.4 260.3,393.2 261.1,397.0 262.2,398.6 263.6,400.3 264.9,401.9 266.3,403.6 267.6,405.2 268.7,407.4 269.8,410.1 270.9,411.2 271.9,410.3 273.0,409.2 274.1,408.4 274.4,409.6 275.4,412.3 276.6,412.8 277.6,409.6 278.7,407.4 279.8,406.3 280.9,405.2 282.0,405.9 283.1,406.8 284.0,403.6 284.7,399.2 285.5,397.0 286.4,392.6 287.1,388.8 287.8,391.6 288.6,396.4 289.3,398.1 290.0,393.7 290.7,389.4 291.5,392.6 292.1,397.0 292.9,395.4 293.8,392.6 294.6,394.3 295.3,396.4 296.2,397.6 296.9,401.4 297.8,405.7 298.9,407.4 300.0,408.4 301.1,411.2 302.2,415.6 303.3,418.8 304.4,420.4 305.4,419.9 306.6,421.0 307.6,422.1 308.5,422.1 309.3,418.8 310.1,414.4 311.1,411.7 312.0,410.6 312.9,409.0 313.6,410.6 314.7,412.8 315.8,413.9 316.9,414.4 318.0,412.8 319.1,410.6 320.0,411.2 320.7,412.3 321.5,410.1 322.4,406.8 323.4,404.1 324.6,401.9 325.0,401.4 326.1,401.4 327.4,401.6 328.3,404.1 329.0,408.4 329.9,412.3 331.0,413.9 332.1,415.0 333.2,416.1 334.3,417.2 335.4,418.3 336.4,419.9 337.6,423.2 338.4,426.2 339.2,427.0 340.1,424.8 341.0,421.0 342.1,419.9 343.2,419.4 344.3,418.3 345.4,416.6 346.5,415.0 347.6,413.4 348.4,413.9 349.2,411.7 350.1,408.4 350.9,407.9 351.7,410.6 352.8,412.8 353.9,413.9 355.0,415.6 356.1,416.6 357.2,418.8 358.3,422.1 359.4,423.2 360.4,421.6 361.6,419.4 362.6,417.7 363.7,418.3 364.8,418.8 365.9,419.4 367.0,419.9 368.1,418.3 369.2,416.1 370.3,414.4 371.1,412.3 372.1,409.6 373.0,407.9 373.8,408.4 374.4,411.7 375.2,413.9 376.3,414.2 377.6,414.7 379.0,415.0 380.3,416.1 381.4,416.6 382.5,416.1 383.6,415.0 384.7,414.2 385.0,412.3 386.0,412.8 387.1,413.1 388.2,413.9 389.3,415.6 390.4,417.7 391.4,419.4 392.6,420.1 393.6,419.9 394.7,420.1 395.8,418.3 396.9,416.6 398.0,415.6 399.1,415.0 400.2,415.3 401.3,415.6"/>
<polyline class="c" stroke="#7e2f8e" points="163.8,412.0 164.4,412.3 165.1,419.9 166.0,425.4 166.9,427.0 167.8,428.6 168.7,428.1 169.6,425.9 170.6,424.5 171.7,423.7 172.8,423.2 173.8,423.0 174.9,422.6 176.0,422.6 177.1,423.7 178.2,425.1 179.3,424.8 180.4,425.6 181.5,427.0 182.6,426.4 183.7,427.3 184.8,426.4 186.2,426.2 187.5,426.7 188.6,427.8 189.7,428.6 190.8,427.6 191.8,426.2 192.9,425.6 194.0,426.2 195.1,427.3 196.2,427.8 197.3,428.4 198.4,427.8 199.5,425.9 200.6,423.7 201.7,423.0 202.8,424.1 203.8,425.6 204.9,427.3 206.0,428.1 207.1,427.8 208.2,426.2 209.3,423.7 210.2,422.1 210.9,423.2 211.6,421.6 212.4,419.9 213.1,422.6 214.0,424.8 215.1,425.1 216.1,423.7 217.2,422.6 218.3,419.9 219.4,417.7 220.2,417.2 221.0,418.8 221.9,422.6 222.8,425.9 223.9,426.4 224.8,424.3 225.9,423.2 227.0,422.6 228.1,423.7 229.2,425.1 230.3,423.2 231.4,421.0 232.7,420.4 233.8,419.4 234.8,418.3 235.9,417.2 237.2,416.1 238.2,416.6 239.2,417.7 240.3,417.5 241.2,419.4 242.3,418.8 243.4,418.3 244.4,419.9 245.6,417.7 246.6,418.8 247.7,419.9 248.8,421.6 249.9,423.4 251.0,424.1 252.1,422.6 253.0,417.7 253.7,412.8 254.5,408.4 255.4,403.0 256.2,400.3 257.0,401.9 257.9,405.2 258.6,406.8 259.5,405.7 260.3,408.4 261.4,411.7 262.4,412.3 263.8,411.7 265.2,411.2 266.5,411.0 267.9,411.2 269.0,412.8 270.1,415.6 271.0,417.7 271.9,416.1 273.0,414.4 274.1,413.6 274.4,414.4 275.4,416.6 276.6,418.3 277.6,416.1 278.7,412.3 279.8,409.6 280.9,410.1 282.0,412.3 283.1,414.4 284.2,412.3 285.3,409.6 286.4,407.9 287.1,406.8 287.8,409.6 288.6,414.4 289.4,418.3 290.4,415.6 291.3,412.8 292.1,415.6 293.1,413.4 294.0,409.6 294.8,408.4 295.6,411.2 296.5,411.7 297.3,413.9 298.1,417.2 299.2,417.7 300.3,416.6 301.3,417.2 302.2,420.4 303.1,423.2 304.1,422.6 305.2,421.6 306.3,422.6 307.4,424.3 308.4,424.8 309.3,421.6 310.1,416.6 311.1,413.4 312.0,412.8 312.9,411.7 313.6,413.9 314.7,415.6 315.8,416.6 317.1,417.7 318.3,417.2 319.4,416.1 320.4,416.6 321.3,417.7 322.1,415.6 323.2,414.2 324.3,413.6 325.0,413.9 326.1,415.0 327.2,417.7 328.3,421.6 329.4,425.4 330.4,427.0 331.6,425.9 332.6,424.3 333.7,424.8 334.8,425.9 335.9,425.4 337.0,427.0 338.1,428.6 339.2,428.6 340.3,427.0 341.1,423.2 341.9,421.0 343.0,422.6 344.1,424.1 345.2,423.4 346.3,423.0 347.4,424.3 348.4,425.4 349.2,422.6 350.1,419.9 351.0,420.4 351.9,423.2 353.0,425.9 354.1,426.4 355.2,425.6 356.3,426.4 357.4,427.8 358.5,425.9 359.6,424.3 360.7,423.4 361.8,422.6 362.9,422.1 363.9,423.0 365.0,423.4 366.1,423.2 367.2,423.7 368.3,422.1 369.4,420.4 370.5,418.8 371.6,417.2 372.7,415.6 373.6,415.3 374.3,417.7 375.2,421.0 376.1,422.1 377.0,420.4 378.1,418.8 379.2,417.7 380.3,418.8 381.2,421.6 382.1,420.4 383.1,418.3 384.2,417.2 385.0,416.6 386.0,416.1 387.1,416.4 388.2,417.7 389.3,419.9 390.4,422.1 391.4,423.0 392.6,422.6 393.6,422.1 394.7,421.9 395.8,420.4 396.9,418.8 398.0,418.3 399.1,418.8 400.2,419.9 401.3,421.0"/>
</g>
<rect x="163.7" y="248.7" width="237.50" height="183.80" fill="none" stroke="#2e2e2e" stroke-width="1.3"/>
<path d="M163.70 432.5v-2.4M163.70 248.7v2.4M193.39 432.5v-2.4M193.39 248.7v2.4M223.07 432.5v-2.4M223.07 248.7v2.4M252.76 432.5v-2.4M252.76 248.7v2.4M282.45 432.5v-2.4M282.45 248.7v2.4M312.14 432.5v-2.4M312.14 248.7v2.4M341.82 432.5v-2.4M341.82 248.7v2.4M371.51 432.5v-2.4M371.51 248.7v2.4M401.20 432.5v-2.4M401.20 248.7v2.4M163.7 432.50h2.4M401.2 432.50h-2.4M163.7 414.12h2.4M401.2 414.12h-2.4M163.7 395.74h2.4M401.2 395.74h-2.4M163.7 377.36h2.4M401.2 377.36h-2.4M163.7 358.98h2.4M401.2 358.98h-2.4M163.7 340.60h2.4M401.2 340.60h-2.4M163.7 322.22h2.4M401.2 322.22h-2.4M163.7 303.84h2.4M401.2 303.84h-2.4M163.7 285.46h2.4M401.2 285.46h-2.4M163.7 267.08h2.4M401.2 267.08h-2.4M163.7 248.70h2.4M401.2 248.70h-2.4" stroke="#262626" stroke-width="0.7" fill="none"/>
<text class="tk" x="163.70" y="442.40" text-anchor="middle">0</text>
<text class="tk" x="193.39" y="442.40" text-anchor="middle">0.05</text>
<text class="tk" x="223.07" y="442.40" text-anchor="middle">0.1</text>
<text class="tk" x="252.76" y="442.40" text-anchor="middle">0.15</text>
<text class="tk" x="282.45" y="442.40" text-anchor="middle">0.2</text>
<text class="tk" x="312.14" y="442.40" text-anchor="middle">0.25</text>
<text class="tk" x="341.82" y="442.40" text-anchor="middle">0.3</text>
<text class="tk" x="371.51" y="442.40" text-anchor="middle">0.35</text>
<text class="tk" x="401.20" y="442.40" text-anchor="middle">0.4</text>
<text class="tk" x="160.90" y="434.90" text-anchor="end">0.1</text>
<text class="tk" x="160.90" y="416.52" text-anchor="end">0.2</text>
<text class="tk" x="160.90" y="398.14" text-anchor="end">0.3</text>
<text class="tk" x="160.90" y="379.76" text-anchor="end">0.4</text>
<text class="tk" x="160.90" y="361.38" text-anchor="end">0.5</text>
<text class="tk" x="160.90" y="343.00" text-anchor="end">0.6</text>
<text class="tk" x="160.90" y="324.62" text-anchor="end">0.7</text>
<text class="tk" x="160.90" y="306.24" text-anchor="end">0.8</text>
<text class="tk" x="160.90" y="287.86" text-anchor="end">0.9</text>
<text class="tk" x="160.90" y="269.48" text-anchor="end">1</text>
<text class="tk" x="160.90" y="251.10" text-anchor="end">1.1</text>
<text class="tk" style="font-size:7.8px" x="282.45" y="452.40" text-anchor="middle">Time [s]</text>
<text class="tk" style="font-size:8.15px" transform="translate(146.90 340.60) rotate(-90)" text-anchor="middle">Wavefront RMS [<tspan font-style="italic">μ</tspan>m]</text>
<text class="tt" x="282.45" y="245.90" text-anchor="middle">Wavefront RMS Critical Scenario</text>
<rect x="332.40" y="255.20" width="63.200000000000045" height="32.60000000000002" fill="#fff" stroke="#262626" stroke-width="1.1"/>
<line x1="334.90" y1="259.95" x2="356.60" y2="259.95" stroke="#0072bd" stroke-width="1.2"/>
<text class="lg" x="358.60" y="262.65">Open Loop</text>
<line x1="334.90" y1="267.80" x2="356.60" y2="267.80" stroke="#d95319" stroke-width="1.2"/>
<text class="lg" x="358.60" y="270.50">CL-I</text>
<line x1="334.90" y1="275.65" x2="356.60" y2="275.65" stroke="#edb120" stroke-width="1.2"/>
<text class="lg" x="358.60" y="278.35">CL-PI</text>
<line x1="334.90" y1="283.50" x2="356.60" y2="283.50" stroke="#7e2f8e" stroke-width="1.2"/>
<text class="lg" x="358.60" y="286.20">CL-PI-Fuzzy</text>
<text class="cap" x="285.1" y="471.7" text-anchor="middle">(c)</text>
</g>
</svg>
</body></html>
